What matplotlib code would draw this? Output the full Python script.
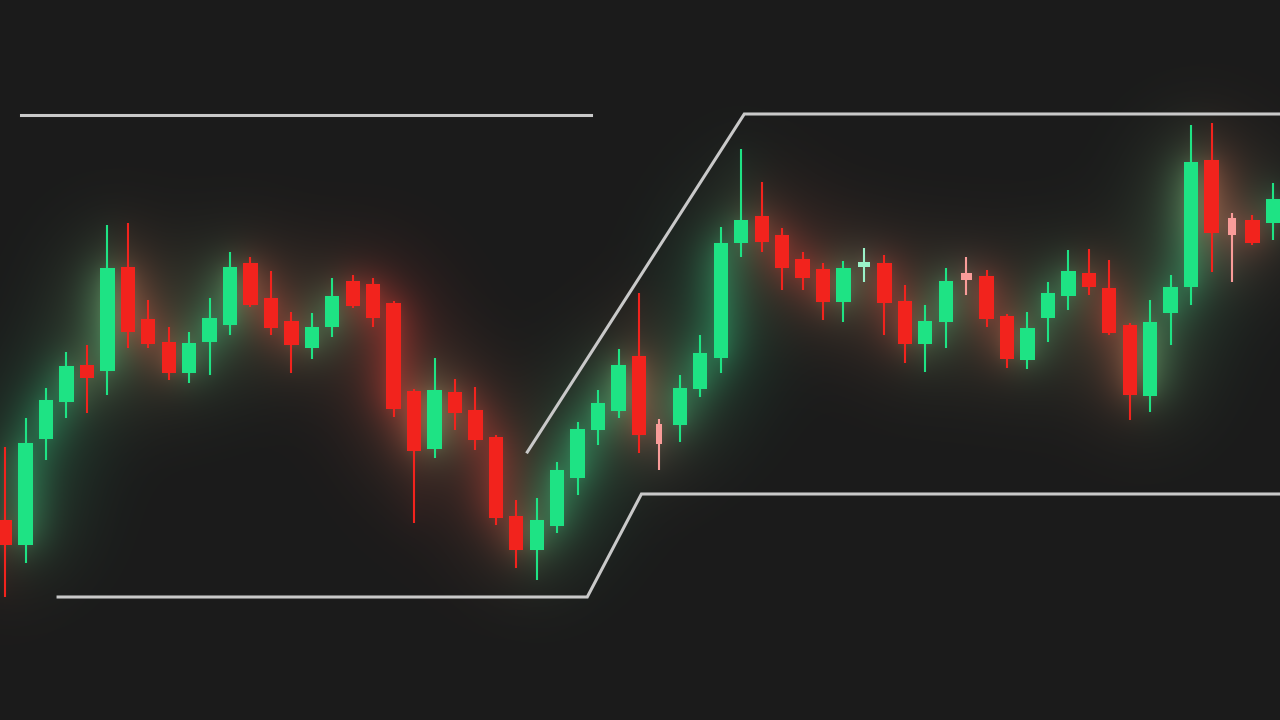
import numpy as np
import matplotlib
matplotlib.use('Agg')
import matplotlib.pyplot as plt
from matplotlib.colors import to_rgb

# candle data (one candle per slot)
opens = [200, 175, 281, 318, 355, 349, 453, 401, 378, 347, 378, 395, 457, 422, 399, 372,
         393, 439, 436, 417, 329, 271, 328, 310, 283, 204, 170, 194, 242, 290, 309, 364,
         296, 295, 331, 362, 477, 504, 485, 461, 451, 418, 453, 457, 419, 376, 398, 447,
         444, 404, 360, 402, 424, 447, 432, 395, 324, 407, 433, 560, 502, 500, 497]
highs = [273, 302, 332, 368, 375, 495, 497, 420, 393, 388, 422, 468, 463, 449, 408, 407,
         442, 445, 442, 419, 331, 362, 341, 333, 285, 220, 222, 258, 298, 330, 371, 427,
         301, 345, 385, 493, 571, 538, 492, 468, 457, 459, 472, 465, 435, 415, 452, 463,
         450, 406, 408, 438, 470, 471, 460, 397, 420, 445, 595, 597, 507, 505, 537]
lows = [123, 157, 260, 302, 307, 325, 372, 372, 340, 337, 345, 385, 413, 385, 347, 361,
        383, 412, 393, 303, 197, 262, 290, 270, 195, 152, 140, 187, 225, 275, 302, 267,
        250, 278, 323, 347, 463, 468, 430, 430, 400, 398, 438, 385, 357, 348, 372, 425,
        393, 352, 351, 378, 410, 425, 385, 300, 308, 375, 415, 448, 438, 475, 480]
closes = [175, 277, 320, 354, 342, 452, 388, 376, 347, 377, 402, 453, 415, 392, 375, 393,
          424, 414, 402, 311, 269, 330, 307, 280, 202, 170, 200, 250, 291, 317, 355, 285,
          276, 332, 367, 477, 500, 478, 452, 442, 418, 452, 458, 417, 376, 399, 439, 440,
          401, 361, 392, 427, 449, 433, 387, 325, 398, 433, 558, 487, 485, 477, 521]
# small doji-like candles drawn pale in the picture
doji_idx = [32, 42, 47, 60]

# channel lines (x in candle slots, y in price)
upper_left_x = [0.78, 28.67]
upper_left_y = [605, 605]
lower_x = [2.59, 28.47, 31.12, 62.5]
lower_y = [123, 123, 226, 226]
upper_right_x = [25.54, 36.15, 62.5]
upper_right_y = [268, 606, 606]

BG = '#1b1b1b'
GREEN = '#1ee384'
RED = '#f2231d'
LINE = '#c9c9c9'
XLIM = (-0.25, 62.35)
YLIM = (0, 720)


def pale(c, k=0.55):
    r = np.array(to_rgb(c))
    return tuple(r + (1 - r) * k)


def draw_candles(ax):
    x = np.arange(len(opens))
    o = np.array(opens, float)
    c = np.array(closes, float)
    up = c >= o
    cols = [GREEN if u else RED for u in up]
    widths = [0.7] * len(opens)
    for i, w in zip(doji_idx, [0.3, 0.55, 0.55, 0.35]):
        widths[i] = w
        cols[i] = pale(cols[i])
    ax.vlines(x, lows, highs, colors=cols, linewidth=1.5, zorder=3)
    ax.bar(x, c - o, bottom=o, width=widths, color=cols, linewidth=0, zorder=4)


def setup(ax):
    ax.set_xlim(*XLIM)
    ax.set_ylim(*YLIM)
    ax.axis('off')


def gblur(img, sigma):
    pad = int(3 * sigma)
    p = np.pad(img, ((pad, pad), (pad, pad), (0, 0)))
    h, w = p.shape[:2]
    fy = np.fft.fftfreq(h)[:, None]
    fx = np.fft.fftfreq(w)[None, :]
    g = np.exp(-2 * (np.pi * sigma) ** 2 * (fx ** 2 + fy ** 2))
    out = np.empty_like(p)
    for k in range(3):
        out[..., k] = np.real(np.fft.ifft2(np.fft.fft2(p[..., k]) * g))
    return out[pad:-pad, pad:-pad]


# first pass: candles alone on black, used for the glow
fig0 = plt.figure(figsize=(12.8, 7.2), dpi=100, facecolor='black')
ax0 = fig0.add_axes([0, 0, 1, 1], facecolor='black')
setup(ax0)
draw_candles(ax0)
fig0.canvas.draw()
src = np.asarray(fig0.canvas.buffer_rgba())[..., :3].astype(float) / 255.0
plt.close(fig0)

glow = 0.1 * gblur(src, 5) + 0.8 * gblur(src, 18) + 1.4 * gblur(src, 45)
bg = np.array(to_rgb(BG))[None, None, :]
base = np.clip(bg + glow * 0.75, 0, 1)

fig = plt.figure(figsize=(12.8, 7.2), dpi=100, facecolor=BG)
ax = fig.add_axes([0, 0, 1, 1])
setup(ax)
ax.imshow(base, extent=(XLIM[0], XLIM[1], YLIM[0], YLIM[1]), aspect='auto',
          origin='upper', zorder=0, interpolation='bilinear')

for xs, ys in [(upper_left_x, upper_left_y), (lower_x, lower_y), (upper_right_x, upper_right_y)]:
    ax.plot(xs, ys, color=LINE, linewidth=2.2, solid_joinstyle='miter', zorder=2)

draw_candles(ax)

plt.savefig('out.png', dpi=100, facecolor=BG)
